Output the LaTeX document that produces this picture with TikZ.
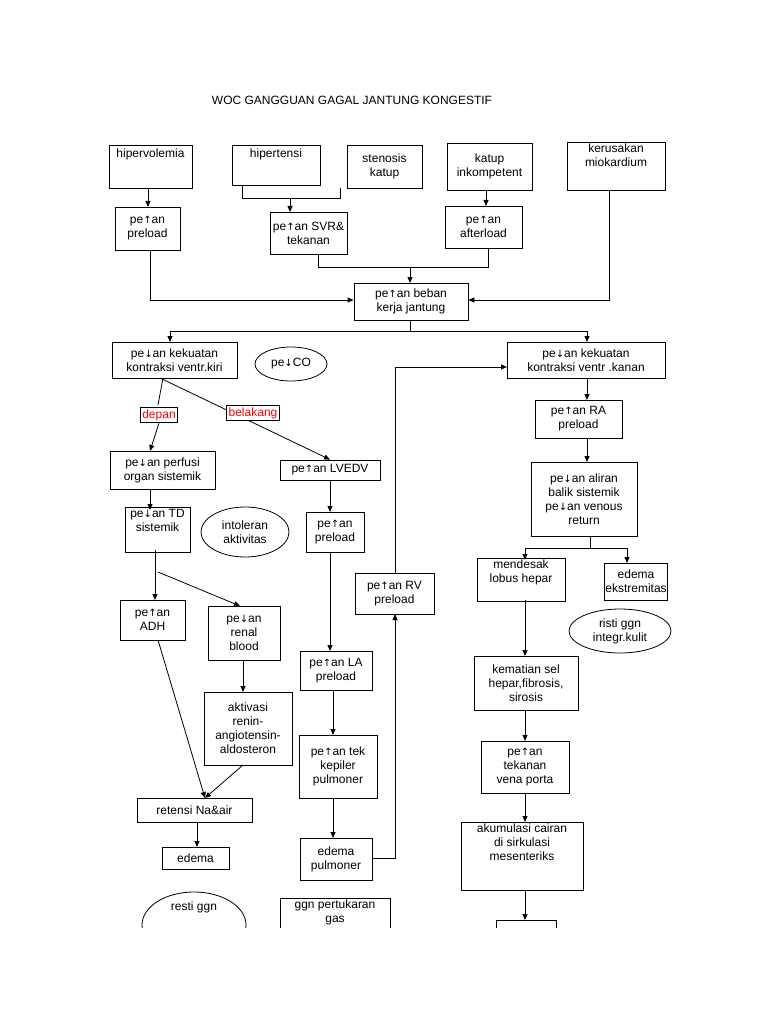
\documentclass[tikz,border=0pt]{standalone}
\usepackage{fontspec}
\setmainfont{Liberation Sans}
\newfontfamily\dv{DejaVu Sans}
\usetikzlibrary{arrows.meta,shapes.geometric}
\newcommand\UP{{\dv\fontsize{10}{12}\selectfont ↑}}
\newcommand\DN{{\dv\fontsize{10}{12}\selectfont ↓}}
\newcommand\bx[6]{\node[box,minimum width={#4-#2},minimum height={#5-#3}] (#1) at ({(#2+#4)/2},{(#3+#5)/2}) {#6};}
\begin{document}
\begin{tikzpicture}[x=1pt,y=-1pt,
 box/.style={draw,thick,inner sep=1pt,align=center,font=\fontsize{12}{14}\selectfont},
 ell/.style={draw,thick,ellipse,align=center,font=\fontsize{12}{14}\selectfont},
 lab/.style={draw,thick,fill=white,text=red,inner sep=2pt,font=\fontsize{12}{14}\selectfont},
 arr/.style={thick,-{Triangle[length=6pt,width=5pt]}},
 ln/.style={thick}]
\useasboundingbox (0,0) rectangle (768,1024);
\clip (0,0) rectangle (768,927);
\node[font=\fontsize{12}{14}\selectfont] (title) at (352,100) {WOC GANGGUAN GAGAL JANTUNG KONGESTIF};
\bx{hv}{109}{145}{192}{188}{hipervolemia\\[12pt]}
\bx{ht}{232}{145}{320}{185}{hipertensi\\[10pt]}
\bx{st}{347}{145}{422}{188}{stenosis\\katup}
\bx{ki}{447}{143}{532}{190}{katup\\inkompetent}
\bx{km}{567}{142}{665}{190}{kerusakan\\miokardium\\[8pt]}
\bx{pl}{115}{207}{180}{250}{pe\UP an\\preload}
\bx{svr}{270}{212}{347}{254}{pe\UP an SVR\&\\tekanan}
\bx{al}{445}{206}{522}{248}{pe\UP an\\afterload}
\bx{bb}{354}{283}{468}{320}{pe\UP an beban\\kerja jantung}
\draw[arr] (148,188) -- (148,207);
\draw[ln] (242,185) -- (242,198) -- (340,198) -- (340,188);
\draw[arr] (290,198) -- (290,212);
\draw[arr] (486,190) -- (486,206);
\draw[ln] (318,254) -- (318,267) -- (488,267) -- (488,248);
\draw[arr] (410,267) -- (410,283);
\draw[arr] (150,250) -- (150,300) -- (bb.west|-150,300);
\draw[arr] (609,190) -- (609,300) -- (bb.east|-609,300);
\bx{kk}{112}{342}{237}{378}{pe\DN an kekuatan\\kontraksi ventr.kiri}
\bx{kn}{507}{342}{665}{378}{pe\DN an kekuatan\\kontraksi ventr .kanan}
\draw[ln] (410,320) -- (410,331);
\draw[ln] (170,331) -- (587,331);
\draw[arr] (170,331) -- (170,342);
\draw[arr] (587,331) -- (587,342);
\node[ell,minimum width=72,minimum height=34,inner sep=0pt] (co) at (291,364) {pe\DN CO};
\bx{pf}{110}{451}{215}{489}{pe\DN an perfusi\\organ sistemik}
\bx{lv}{280}{460}{380}{480}{pe\UP an LVEDV}
\draw[arr] (160,378) -- (lv.north);
\node[lab] (bl) at (253,413) {belakang};
\draw[ln] (163,378) -- (158,405);
\node[lab] (dp) at (159,415) {depan};
\draw[arr] (dp.south) -- (150,451);
\bx{td}{125}{510}{190}{550}{pe\DN an TD\\sistemik\\[6pt]}
\node[ell,minimum width=88,minimum height=50,inner sep=0pt] (ia) at (245,532) {intoleran\\aktivitas};
\bx{pm}{306}{512}{364}{552}{pe\UP an\\preload}
\bx{rv}{355}{573}{434}{614}{pe\UP an RV\\preload}
\bx{adh}{120}{600}{185}{640}{pe\UP an\\ADH}
\bx{rb}{208}{606}{280}{660}{pe\DN an\\renal\\blood}
\bx{ra}{204}{692}{292}{765}{aktivasi\\renin-\\angiotensin-\\aldosteron}
\bx{rn}{137}{798}{252}{822}{retensi Na\&air}
\bx{ed}{162}{847}{229}{869}{edema}
\node[ell,minimum width=104,minimum height=56,inner sep=0pt] (rg) at (194,925) {resti ggn\\[24pt]};
\draw[arr] (150,489) -- (150,510);
\draw[arr] (155,550) -- (155,600);
\draw[arr] (158,572) -- (240,606);
\draw[arr] (158,640) -- (205,798);
\draw[arr] (243,660) -- (243,692);
\draw[arr] (243,765) -- (205,798);
\draw[arr] (197,822) -- (197,847);
\bx{la}{300}{651}{372}{690}{pe\UP an LA\\preload}
\bx{kp}{299}{735}{377}{798}{pe\UP an tek\\kepiler\\pulmoner}
\bx{ep}{300}{838}{372}{880}{edema\\pulmoner}
\bx{gp}{280}{898}{390}{948}{ggn pertukaran\\gas\\[10pt]}
\draw[arr] (330,480) -- (330,512);
\draw[arr] (330,552) -- (330,651);
\draw[arr] (333,690) -- (333,735);
\draw[arr] (333,798) -- (333,838);
\draw[arr] (372,858) -- (395,858) -- (395,614);
\draw[arr] (395,573) -- (395,367) -- (507,367);
\bx{rap}{535}{400}{622}{438}{pe\UP an RA\\preload}
\bx{vr}{531}{462}{637}{536}{pe\DN an aliran\\balik sistemik\\pe\DN an venous\\return}
\bx{mh}{477}{560}{565}{600}{mendesak\\lobus hepar\\[4pt]}
\bx{ee}{606}{563}{666}{600}{edema\\ekstremitas}
\node[ell,minimum width=102,minimum height=44,inner sep=0pt] (rk) at (620,631) {risti ggn\\integr.kulit};
\bx{ks}{474}{656}{578}{710}{kematian sel\\hepar,fibrosis,\\sirosis}
\bx{vp}{481}{741}{569}{793}{pe\UP an\\tekanan\\vena porta}
\bx{ak}{461}{822}{583}{890}{akumulasi cairan\\di sirkulasi\\mesenteriks\\[14pt]}
\bx{bt}{496}{920}{556}{960}{}
\draw[arr] (587,378) -- (587,400);
\draw[arr] (587,438) -- (587,462);
\draw[ln] (590,536) -- (590,548);
\draw[ln] (525,548) -- (627,548);
\draw[arr] (525,548) -- (525,560);
\draw[arr] (627,548) -- (627,563);
\draw[arr] (525,600) -- (525,656);
\draw[arr] (525,710) -- (525,741);
\draw[arr] (525,793) -- (525,822);
\draw[arr] (525,890) -- (525,920);
\end{tikzpicture}
\end{document}
